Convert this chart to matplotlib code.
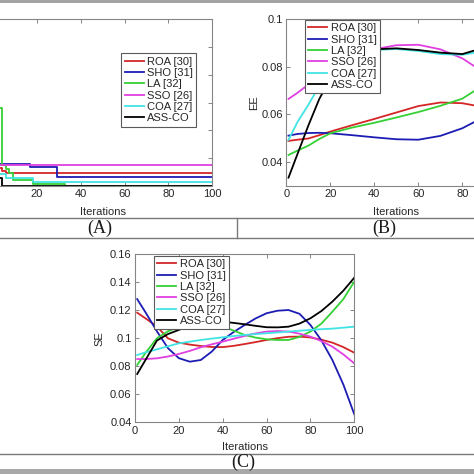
import matplotlib
matplotlib.use("Agg")
import matplotlib.pyplot as plt
from matplotlib.lines import Line2D
from matplotlib.patches import Rectangle
from matplotlib.ticker import FuncFormatter

plt.rcParams['font.family'] = ['Liberation Sans', 'DejaVu Sans']

names = ['ROA [30]', 'SHO [31]', 'LA [32]', 'SSO [26]', 'COA [27]', 'ASS-CO']
colors = ['#d42626', '#1c1cb4', '#35d035', '#e040e0', '#40e4e4', '#000000']

# ---- Panel A: convergence (step breakpoints: iteration, value)
a_roa_x = [1, 4, 6, 100];            a_roa_y = [0.64, 0.55, 0.478, 0.478]
a_sho_x = [1, 17, 29, 100];          a_sho_y = [0.79, 0.67, 0.31, 0.31]
a_la_x = [1, 4, 6, 7, 9, 18, 33, 100]
a_la_y = [2.8, 0.75, 0.6, 0.45, 0.216, 0.06, 0.0, 0.0]
a_sso_x = [1, 100];                  a_sso_y = [0.745, 0.745]
a_coa_x = [1, 6, 18, 100];           a_coa_y = [0.43, 0.3, 0.155, 0.155]
a_ass_x = [1, 4, 100];               a_ass_y = [0.29, 0.0, 0.0]

# ---- Panel B: EE
b_x = [1, 5, 10, 15, 20, 30, 40, 50, 60, 70, 80, 90, 100]
b_roa = [0.0489, 0.0494, 0.0499, 0.0513, 0.0528, 0.0555, 0.0581, 0.0608, 0.0635, 0.0650, 0.0647, 0.0630, 0.0600]
b_sho = [0.0511, 0.0518, 0.0522, 0.0523, 0.0521, 0.0513, 0.0504, 0.0496, 0.0494, 0.0510, 0.0542, 0.0590, 0.0650]
b_la = [0.0430, 0.0448, 0.0469, 0.0497, 0.0521, 0.0545, 0.0565, 0.0587, 0.0610, 0.0636, 0.0666, 0.0725, 0.0800]
b_sso = [0.0665, 0.0690, 0.0725, 0.0760, 0.0790, 0.0845, 0.0873, 0.0890, 0.0892, 0.0873, 0.0835, 0.0775, 0.0700]
b_coa = [0.0493, 0.0567, 0.0640, 0.0720, 0.0780, 0.0845, 0.0870, 0.0874, 0.0866, 0.0853, 0.0850, 0.0865, 0.0900]
b_ass = [0.0335, 0.0432, 0.0553, 0.0665, 0.0750, 0.0838, 0.0873, 0.0877, 0.0870, 0.0859, 0.0853, 0.0880, 0.0940]

# ---- Panel C: SE
c_x = [1, 5, 10, 15, 20, 25, 30, 35, 40, 45, 50, 55, 60, 65, 70, 75, 80, 85, 90, 95, 100]
c_roa = [0.1183, 0.1140, 0.1085, 0.1000, 0.0969, 0.0955, 0.0945, 0.0938, 0.0937, 0.0946, 0.0959,
         0.0973, 0.0988, 0.1001, 0.1011, 0.1012, 0.1006, 0.0990, 0.0969, 0.0937, 0.0897]
c_sho = [0.1280, 0.1180, 0.1050, 0.0930, 0.0858, 0.0833, 0.0845, 0.0905, 0.0988, 0.1045, 0.1095,
         0.1142, 0.1179, 0.1197, 0.1202, 0.1175, 0.1095, 0.0985, 0.0845, 0.0670, 0.0457]
c_la = [0.0810, 0.0900, 0.1000, 0.1050, 0.1080, 0.1100, 0.1105, 0.1100, 0.1083, 0.1055, 0.1024,
        0.1005, 0.0993, 0.0988, 0.0988, 0.1010, 0.1048, 0.1105, 0.1190, 0.1280, 0.1405]
c_sso = [0.0852, 0.0852, 0.0857, 0.0870, 0.0888, 0.0910, 0.0936, 0.0957, 0.0976, 0.0997, 0.1017,
         0.1035, 0.1048, 0.1052, 0.1048, 0.1033, 0.1012, 0.0980, 0.0940, 0.0885, 0.0821]
c_coa = [0.0881, 0.0900, 0.0921, 0.0943, 0.0964, 0.0976, 0.0988, 0.0998, 0.1007, 0.1016, 0.1024,
         0.1030, 0.1036, 0.1042, 0.1048, 0.1054, 0.1060, 0.1065, 0.1069, 0.1076, 0.1083]
c_ass = [0.0745, 0.0851, 0.0984, 0.1030, 0.1060, 0.1090, 0.1110, 0.1117, 0.1119, 0.1110, 0.1100,
         0.1089, 0.1079, 0.1078, 0.1083, 0.1105, 0.1143, 0.1195, 0.1262, 0.1340, 0.1433]

xticks = [0, 20, 40, 60, 80, 100]
xlabels_A = ['', '20', '40', '60', '80', '100']
xlabels_B = ['0', '20', '40', '60', '80', '']
xlabels_C = ['0', '20', '40', '60', '80', '100']

W = H = 474.0
fig = plt.figure(figsize=(4.74, 4.74), dpi=100)

SP = '#858585'
TX = '#262626'
FS = 8
LW = 1.3


def px_axes(left, top, right, bottom):
    return fig.add_axes([left / W, 1 - bottom / H, (right - left) / W, (bottom - top) / H])


def style(ax, xl):
    for s in ax.spines.values():
        s.set_color(SP)
        s.set_linewidth(0.8)
    ax.tick_params(direction='in', length=3, width=0.7, color=SP, labelcolor=TX,
                   labelsize=FS, top=True, right=True, pad=2.5)
    ax.set_xticks(xticks)
    ax.set_xticklabels(xl)
    ax.set_xlim(0, 100)


def add_legend(ax, left, top):
    leg = ax.legend(names, loc='upper left', bbox_to_anchor=(left / W, 1 - top / H),
                    bbox_transform=fig.transFigure, borderaxespad=0, fontsize=FS,
                    handlelength=1.7, handletextpad=0.3, borderpad=0.3, labelspacing=0.12,
                    fancybox=False, framealpha=1, edgecolor='#5a5a5a')
    leg.get_frame().set_linewidth(0.8)
    for t in leg.get_texts():
        t.set_color(TX)


fmt = FuncFormatter(lambda v, p: '%g' % round(v, 4))

# Panel A
axA = px_axes(-6.75, 19, 212, 186)
style(axA, xlabels_A)
A = [(a_roa_x, a_roa_y), (a_sho_x, a_sho_y), (a_la_x, a_la_y), (a_sso_x, a_sso_y),
     (a_coa_x, a_coa_y), (a_ass_x, a_ass_y)]
for (x, y), c in zip(A, colors):
    axA.plot(x, y, color=c, lw=LW, drawstyle='steps-post')
axA.set_ylim(0, 6)
axA.set_yticks(range(0, 7))
axA.set_yticklabels([])
axA.set_xlabel('Iterations', fontsize=FS, color=TX)
axA.xaxis.label.set_va('center')
axA.xaxis.set_label_coords(0.5, -0.156)
add_legend(axA, 121.3, 53.3)

# Panel B
axB = px_axes(286.3, 19, 506.3, 186)
style(axB, xlabels_B)
for y, c in zip([b_roa, b_sho, b_la, b_sso, b_coa, b_ass], colors):
    axB.plot(b_x, y, color=c, lw=LW)
axB.set_ylim(0.03, 0.1)
axB.set_yticks([0.04, 0.06, 0.08, 0.1])
axB.yaxis.set_major_formatter(fmt)
axB.set_xlabel('Iterations', fontsize=FS, color=TX)
axB.xaxis.label.set_va('center')
axB.xaxis.set_label_coords(0.5, -0.156)
axB.set_ylabel('EE', fontsize=FS, color=TX)
axB.yaxis.label.set_va('center')
axB.yaxis.set_label_coords(-0.148, 0.5)
add_legend(axB, 305, 20)

# Panel C
axC = px_axes(135, 254.3, 354.3, 422.3)
style(axC, xlabels_C)
for y, c in zip([c_roa, c_sho, c_la, c_sso, c_coa, c_ass], colors):
    axC.plot(c_x, y, color=c, lw=LW)
axC.set_ylim(0.04, 0.16)
axC.set_yticks([0.04, 0.06, 0.08, 0.1, 0.12, 0.14, 0.16])
axC.yaxis.set_major_formatter(fmt)
axC.set_xlabel('Iterations', fontsize=FS, color=TX)
axC.xaxis.label.set_va('center')
axC.xaxis.set_label_coords(0.5, -0.147)
axC.set_ylabel('SE', fontsize=FS, color=TX)
axC.yaxis.label.set_va('center')
axC.yaxis.set_label_coords(-0.163, 0.5)
add_legend(axC, 154, 256)

# table frame lines
LC = '#7a7a7a'


def hline(y, x0=0, x1=W, lw=1.0, c=LC):
    fig.add_artist(Line2D([x0 / W, x1 / W], [1 - y / H, 1 - y / H], color=c, lw=lw,
                          transform=fig.transFigure))


def vline(x, y0, y1, lw=1.0, c=LC):
    fig.add_artist(Line2D([x / W, x / W], [1 - y0 / H, 1 - y1 / H], color=c, lw=lw,
                          transform=fig.transFigure))


hline(218)
hline(238)
vline(237, 218, 238)
hline(453.5)
fig.add_artist(Rectangle((0, 1 - 3 / H), 1, 3 / H, transform=fig.transFigure,
                         color='#a3a3a3', lw=0))
fig.add_artist(Rectangle((0, 0), 1, 5 / H, transform=fig.transFigure,
                         color='#a8a8a8', lw=0))

serif = ['Liberation Serif', 'DejaVu Serif']
for lab, x, y in [('(A)', 100, 228.5), ('(B)', 384.7, 228.5), ('(C)', 243, 462)]:
    fig.text(x / W, 1 - y / H, lab, family=serif, fontsize=13, color='#1a1a1a',
             ha='center', va='center')

fig.savefig('out.png', dpi=100)
